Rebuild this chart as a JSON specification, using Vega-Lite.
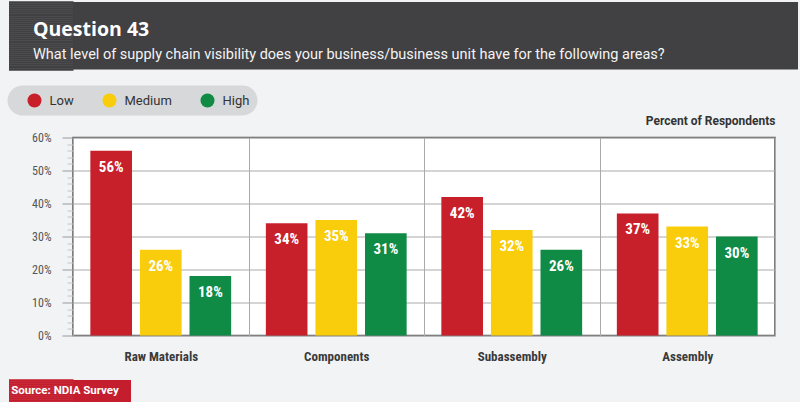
{
  "$schema": "https://vega.github.io/schema/vega-lite/v6.json",
  "background": "#f2f3f5",
  "padding": {"left": 6, "top": 0, "right": 3, "bottom": 0},
  "spacing": 13.5,
  "config": {"view": {"stroke": null}},
  "resolve": {"legend": {"color": "independent"}, "scale": {"color": "independent", "y": "independent"}},
  "vconcat": [
    {
      "width": 725,
      "height": 67.4,
      "view": {"fill": "#414042", "stroke": null},
      "title": {
        "text": "Question 43",
        "subtitle": "What level of supply chain visibility does your business/business unit have for the following areas?",
        "anchor": "start",
        "frame": "group",
        "offset": -62,
        "dx": -40,
        "dy": 0,
        "font": "Open Sans",
        "fontSize": 19.5,
        "fontWeight": "bold",
        "color": "#ffffff",
        "subtitleFont": "Roboto",
        "subtitleFontSize": 14.5,
        "subtitleColor": "#f4f4f4",
        "subtitlePadding": 8
      },
      "data": {"values": [{}]},
      "mark": {"type": "text", "text": ""},
      "encoding": {
        "y": {
          "datum": 17.5,
          "type": "quantitative",
          "scale": {"domain": [0, 35], "nice": false, "zero": false},
          "axis": {
            "values": [0, 1, 2, 3, 4, 5, 6, 7, 8, 9, 10, 11, 12, 13, 14, 15, 16, 17, 18, 19, 20, 21, 22, 23, 24, 25, 26, 27, 28, 29, 30, 31, 32, 33, 34, 35],
            "labels": false,
            "domain": false,
            "grid": false,
            "title": null,
            "tickSize": 64.5,
            "tickWidth": 2.6,
            "tickColor": "#414042"
          }
        }
      }
    },
    {
      "width": 702,
      "height": 198,
      "view": {"fill": "#ffffff", "stroke": "#555555", "strokeWidth": 1.5},
      "data": {
        "values": [
          {"area": "Raw Materials", "level": "Low", "pct": 0.56},
          {"area": "Raw Materials", "level": "Medium", "pct": 0.26},
          {"area": "Raw Materials", "level": "High", "pct": 0.18},
          {"area": "Components", "level": "Low", "pct": 0.34},
          {"area": "Components", "level": "Medium", "pct": 0.35},
          {"area": "Components", "level": "High", "pct": 0.31},
          {"area": "Subassembly", "level": "Low", "pct": 0.42},
          {"area": "Subassembly", "level": "Medium", "pct": 0.32},
          {"area": "Subassembly", "level": "High", "pct": 0.26},
          {"area": "Assembly", "level": "Low", "pct": 0.37},
          {"area": "Assembly", "level": "Medium", "pct": 0.33},
          {"area": "Assembly", "level": "High", "pct": 0.30}
        ]
      },
      "encoding": {
        "x": {
          "field": "area",
          "type": "nominal",
          "sort": ["Raw Materials", "Components", "Subassembly", "Assembly"],
          "scale": {"paddingInner": 0, "paddingOuter": 0},
          "axis": {
            "title": null,
            "tickBand": "extent",
            "grid": true,
            "gridColor": "#aaaaaa",
            "gridWidth": 1,
            "ticks": false,
            "domain": false,
            "labelAngle": 0,
            "labelPadding": 15,
            "labelFont": "Roboto Condensed, Liberation Sans Narrow, DejaVu Sans Condensed, Roboto",
            "labelFontWeight": "bold",
            "labelFontSize": 13,
            "labelColor": "#3a3a3a"
          }
        },
        "xOffset": {
          "field": "level",
          "type": "nominal",
          "sort": ["Low", "Medium", "High"],
          "scale": {"paddingInner": 0.16, "paddingOuter": 0.35}
        },
        "y": {
          "field": "pct",
          "type": "quantitative",
          "scale": {"domain": [0, 0.6], "nice": false},
          "axis": {
            "title": "Percent of Respondents",
            "titleAngle": 0,
            "titleAlign": "right",
            "titleBaseline": "alphabetic",
            "titleX": 702,
            "titleY": -13,
            "titleFont": "Roboto",
            "titleFontSize": 12,
            "titleFontWeight": "bold",
            "titleColor": "#333333",
            "values": [0, 0.02, 0.04, 0.06, 0.08, 0.1, 0.12, 0.14, 0.16, 0.18, 0.2, 0.22, 0.24, 0.26, 0.28, 0.3, 0.32, 0.34, 0.36, 0.38, 0.4, 0.42, 0.44, 0.46, 0.48, 0.5, 0.52, 0.54, 0.56, 0.58, 0.6],
            "labelExpr": "round(datum.value*100) % 10 === 0 ? format(datum.value, '.0%') : ''",
            "labelOverlap": false,
            "labelFont": "Roboto Condensed, Liberation Sans Narrow, DejaVu Sans Condensed, Roboto",
            "labelFontSize": 12,
            "labelColor": "#555555",
            "labelPadding": 11,
            "domain": false,
            "tickSize": {"condition": {"test": "round(datum.value*100) % 10 === 0", "value": 11}, "value": 6},
            "tickColor": {"condition": {"test": "round(datum.value*100) % 10 === 0", "value": "#999999"}, "value": "#c4c4c4"},
            "grid": true,
            "gridColor": "#aaaaaa",
            "gridOpacity": {"condition": {"test": "round(datum.value*100) % 10 === 0", "value": 1}, "value": 0}
          }
        }
      },
      "layer": [
        {
          "mark": {"type": "bar"},
          "encoding": {
            "color": {
              "field": "level",
              "type": "nominal",
              "sort": ["Low", "Medium", "High"],
              "scale": {"domain": ["Low", "Medium", "High"], "range": ["#c8202b", "#f9cd0b", "#0f8b45"]},
              "legend": {
                "orient": "none",
                "legendX": -65.5,
                "legendY": -52,
                "direction": "horizontal",
                "title": "\u00a0",
                "titleOrient": "left",
                "titleFontSize": 10,
                "titlePadding": 12,
                "symbolType": "circle",
                "symbolSize": 196,
                "symbolStrokeWidth": 0,
                "symbolOpacity": 1,
                "labelFont": "Roboto",
                "labelFontSize": 13,
                "labelColor": "#333333",
                "labelOffset": 8,
                "columnPadding": 28,
                "fillColor": "#d7d8da",
                "cornerRadius": 15,
                "padding": 8,
                "labelExpr": "datum.label == 'High' ? 'High\u00a0\u00a0\u00a0\u00a0\u00a0\u00a0\u00a0\u00a0' : datum.label"
              }
            }
          }
        },
        {
          "mark": {
            "type": "text",
            "baseline": "middle",
            "dy": 16,
            "font": "Roboto Condensed, Liberation Sans Narrow, DejaVu Sans Condensed, Roboto",
            "fontWeight": "bold",
            "fontSize": 15,
            "color": "#ffffff"
          },
          "encoding": {
            "text": {"field": "pct", "type": "quantitative", "format": ".0%"}
          }
        }
      ]
    },
    {
      "width": 58,
      "height": 22,
      "view": {"fill": "#c41e2e", "stroke": null},
      "data": {"values": [{"label": "Source: NDIA Survey"}]},
      "mark": {"type": "text", "font": "Roboto", "fontWeight": "bold", "fontSize": 11.5, "color": "#ffffff", "baseline": "middle", "dx": -37},
      "encoding": {
        "text": {"field": "label", "type": "nominal"},
        "y": {
          "datum": 5.5,
          "type": "quantitative",
          "scale": {"domain": [0, 11], "nice": false, "zero": false},
          "axis": {
            "values": [0, 1, 2, 3, 4, 5, 6, 7, 8, 9, 10, 11],
            "labels": false,
            "domain": false,
            "grid": false,
            "title": null,
            "tickSize": 64.5,
            "tickWidth": 2.6,
            "tickColor": "#c41e2e"
          }
        }
      }
    }
  ]
}
